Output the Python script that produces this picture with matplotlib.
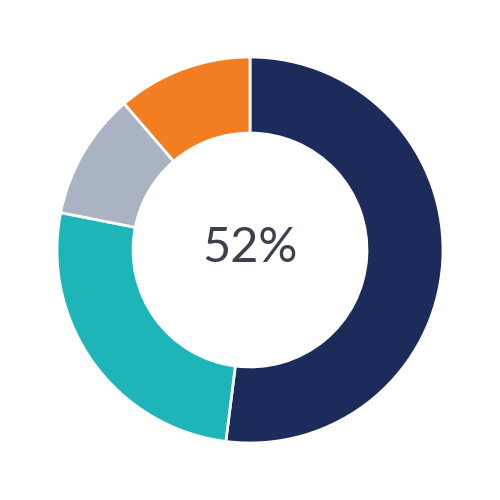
import matplotlib
matplotlib.use('Agg')
from matplotlib import pyplot as plt

labels = ['Navy', 'Teal', 'Gray', 'Orange']
values = [52, 26.1, 10.6, 11.3]
colors = ['#1c2b59', '#1db5b8', '#a9b3c1', '#f37e21']
center_label = '52%'

fig = plt.figure(figsize=(5, 5), dpi=100)
ax = fig.add_axes([0, 0, 1, 1])
ax.pie(values, colors=colors, startangle=90, counterclock=False,
       radius=1.0, wedgeprops=dict(width=0.394, edgecolor='white', linewidth=2))
ax.text(0, 0.01, center_label, ha='center', va='center', fontsize=35,
        color='#3b404b', family=['Lato', 'DejaVu Sans'])
lim = 250 / 193
ax.set_xlim(-lim, lim)
ax.set_ylim(-lim, lim)
ax.set_aspect('equal')
ax.axis('off')
fig.savefig('out.png', dpi=100, facecolor='white')
